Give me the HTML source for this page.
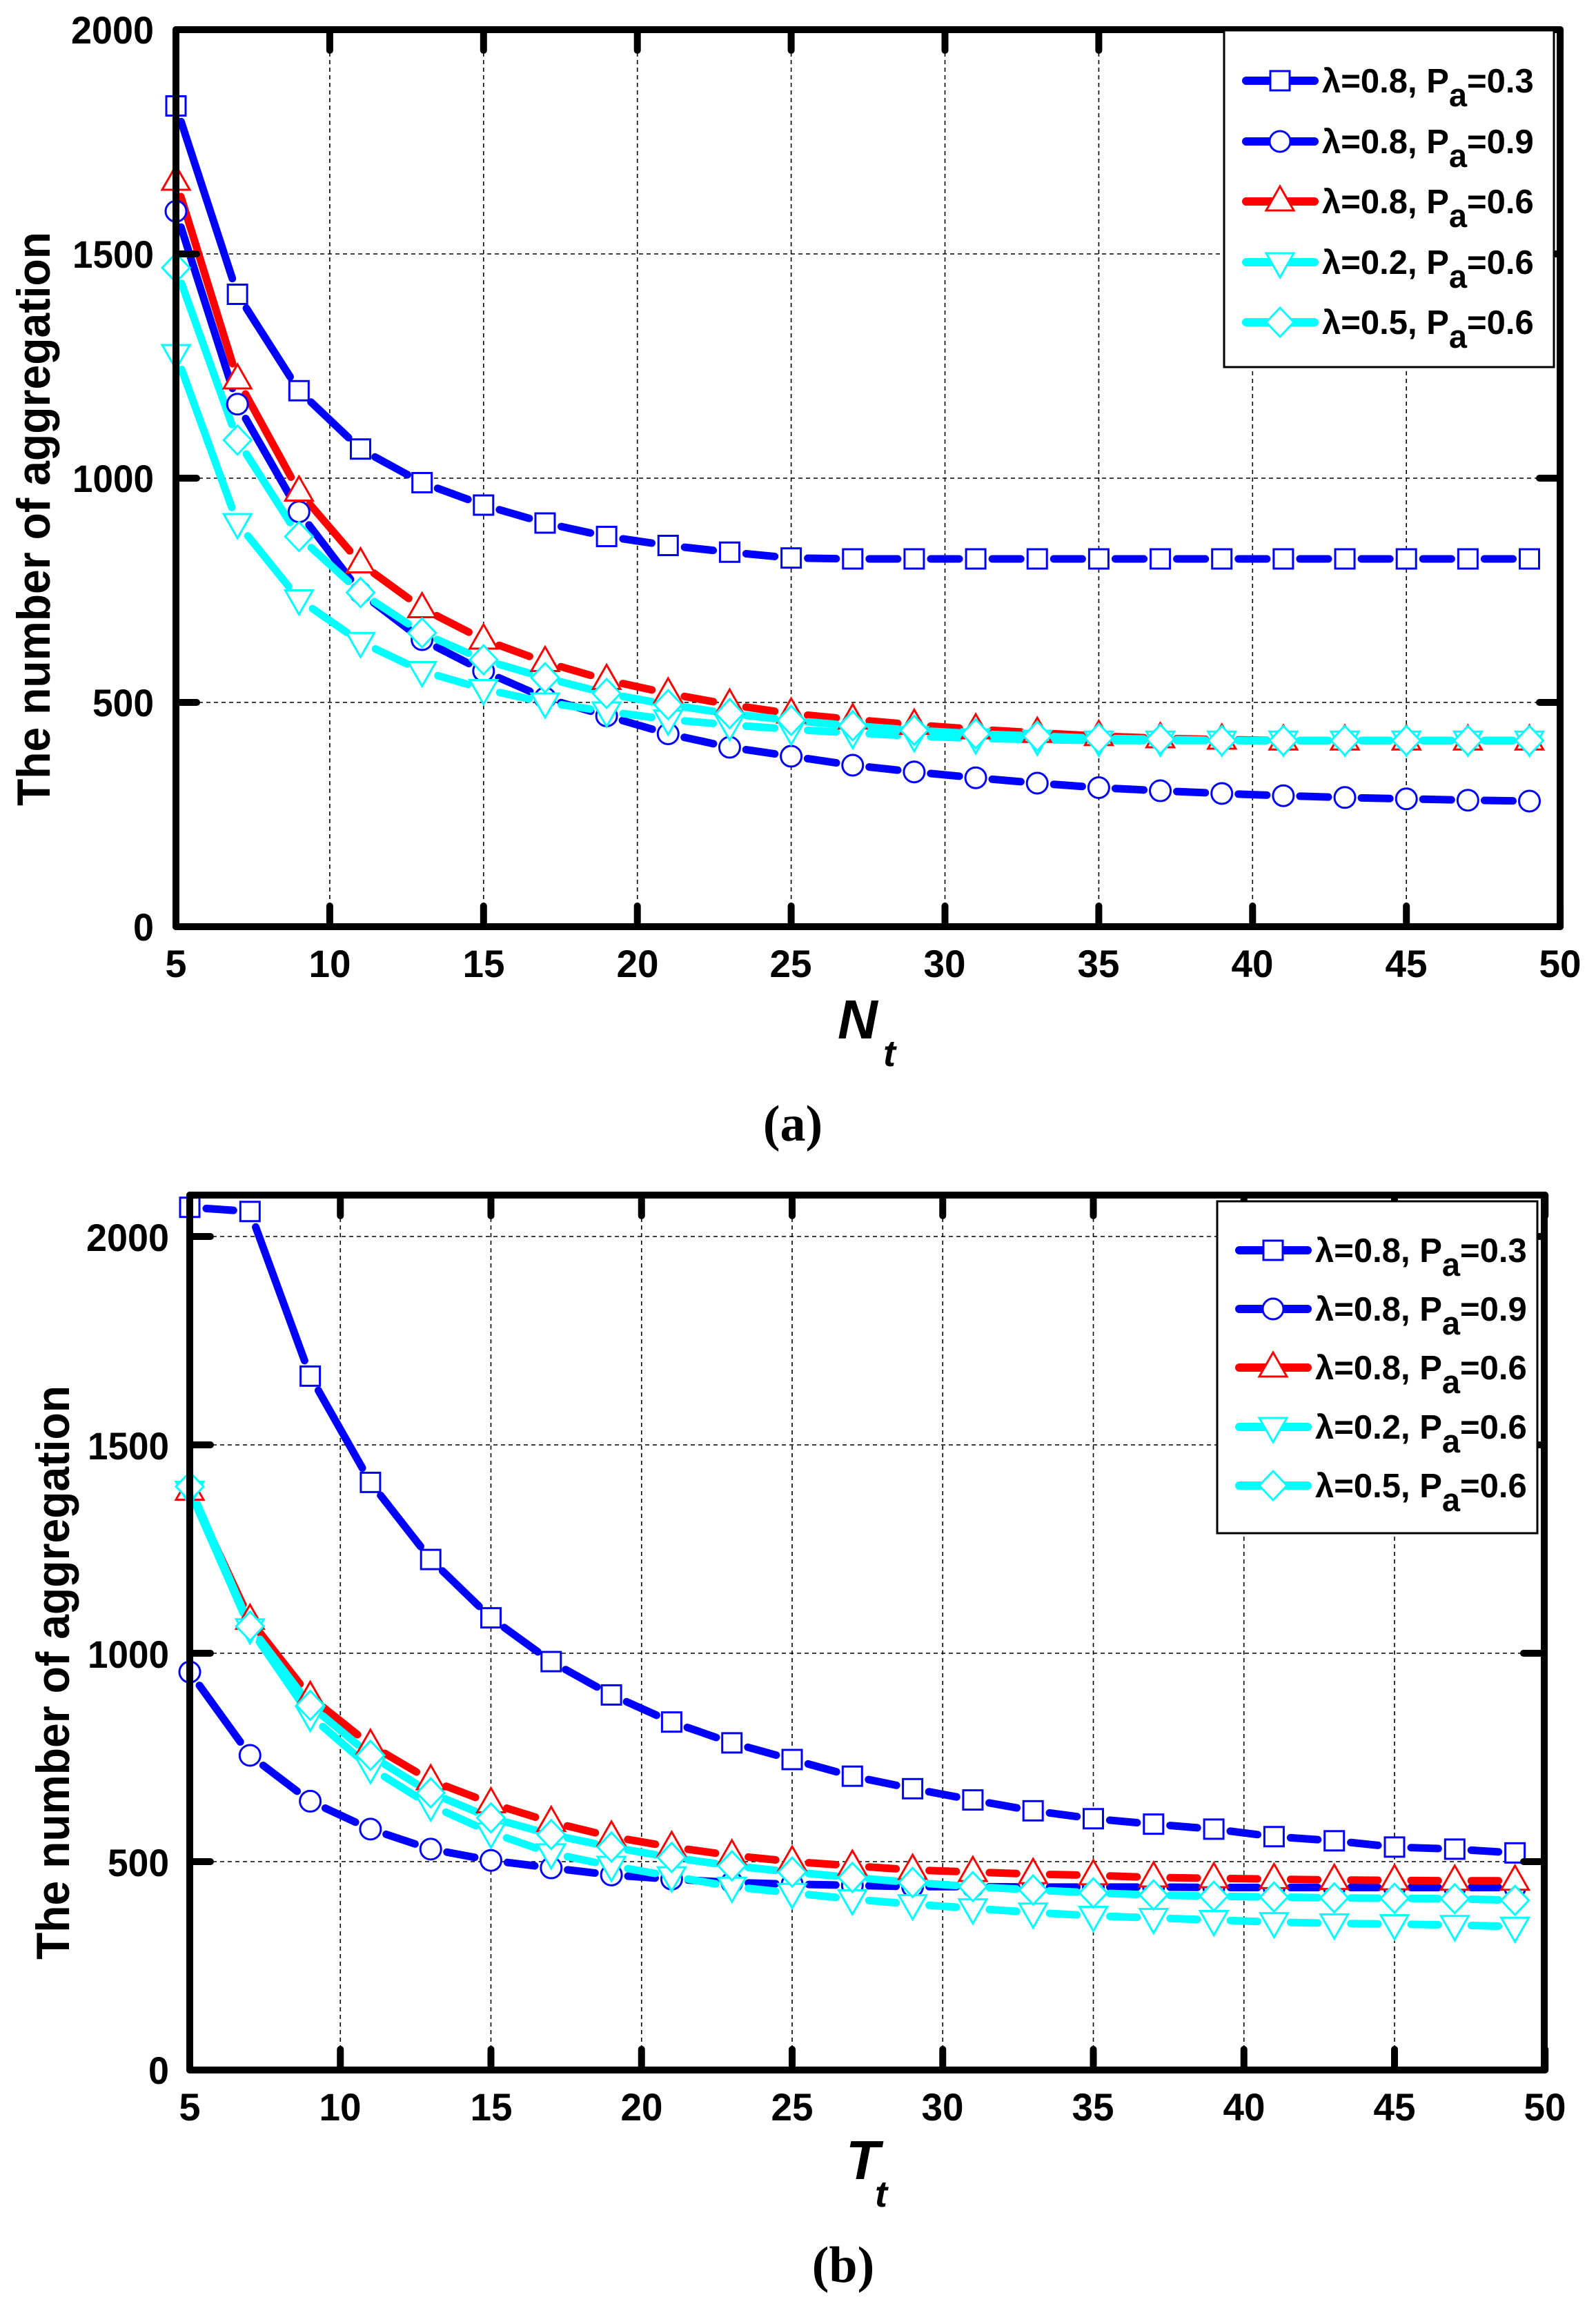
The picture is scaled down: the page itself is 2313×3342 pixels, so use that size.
<!DOCTYPE html>
<html><head><meta charset="utf-8"><style>
html,body{margin:0;padding:0;background:#fff;}
svg{display:block;}
.tk{font-family:"Liberation Sans Narrow","Liberation Sans",sans-serif;font-weight:bold;font-size:56px;}
.lg{font-family:"Liberation Sans",sans-serif;font-weight:bold;font-size:49px;}
</style></head><body>
<svg id="s" width="2313" height="3342" viewBox="0 0 2313 3342" xmlns="http://www.w3.org/2000/svg">
<rect width="2313" height="3342" fill="#fff"/>
<g id="ga"></g>
<g id="gb"></g>
<!-- Plot a texts -->
<g class="tk" text-anchor="end">
<text x="223" y="63" textLength="120" lengthAdjust="spacingAndGlyphs">2000</text>
<text x="223" y="388" textLength="118" lengthAdjust="spacingAndGlyphs">1500</text>
<text x="223" y="713" textLength="118" lengthAdjust="spacingAndGlyphs">1000</text>
<text x="223" y="1038" textLength="89" lengthAdjust="spacingAndGlyphs">500</text>
<text x="223" y="1363" textLength="30" lengthAdjust="spacingAndGlyphs">0</text>
</g>
<g class="tk" text-anchor="middle">
<text x="255" y="1416">5</text>
<text x="478" y="1416" textLength="61" lengthAdjust="spacingAndGlyphs">10</text>
<text x="701" y="1416" textLength="61" lengthAdjust="spacingAndGlyphs">15</text>
<text x="924" y="1416" textLength="61" lengthAdjust="spacingAndGlyphs">20</text>
<text x="1146" y="1416" textLength="61" lengthAdjust="spacingAndGlyphs">25</text>
<text x="1369" y="1416" textLength="61" lengthAdjust="spacingAndGlyphs">30</text>
<text x="1592" y="1416" textLength="61" lengthAdjust="spacingAndGlyphs">35</text>
<text x="1815" y="1416" textLength="61" lengthAdjust="spacingAndGlyphs">40</text>
<text x="2038" y="1416" textLength="61" lengthAdjust="spacingAndGlyphs">45</text>
<text x="2261" y="1416" textLength="61" lengthAdjust="spacingAndGlyphs">50</text>
</g>
<text transform="translate(72,752) rotate(-90)" text-anchor="middle" font-family="'Liberation Sans Narrow','Liberation Sans',sans-serif" font-weight="bold" font-size="68" textLength="832" lengthAdjust="spacingAndGlyphs">The number of aggregation</text>
<text x="1214" y="1505" font-family="'Liberation Sans',sans-serif" font-weight="bold" font-style="italic" font-size="80">N</text>
<text x="1280" y="1545" font-family="'Liberation Sans',sans-serif" font-weight="bold" font-style="italic" font-size="54">t</text>
<text x="1149" y="1653" text-anchor="middle" font-family="'Liberation Serif',serif" font-weight="bold" font-size="74">(a)</text>
<!-- Legend a -->
<rect x="1774" y="44" width="478" height="488" fill="#fff" stroke="#000" stroke-width="3"/>
<g class="lg">
<text x="1916" y="134">λ=0.8, P<tspan font-size="47" dy="20">a</tspan><tspan dy="-20">=0.3</tspan></text>
<text x="1916" y="222">λ=0.8, P<tspan font-size="47" dy="20">a</tspan><tspan dy="-20">=0.9</tspan></text>
<text x="1916" y="309">λ=0.8, P<tspan font-size="47" dy="20">a</tspan><tspan dy="-20">=0.6</tspan></text>
<text x="1916" y="397">λ=0.2, P<tspan font-size="47" dy="20">a</tspan><tspan dy="-20">=0.6</tspan></text>
<text x="1916" y="484">λ=0.5, P<tspan font-size="47" dy="20">a</tspan><tspan dy="-20">=0.6</tspan></text>
</g>
<!-- Plot b texts -->
<g class="tk" text-anchor="end">
<text x="245" y="1813" textLength="120" lengthAdjust="spacingAndGlyphs">2000</text>
<text x="245" y="2115" textLength="118" lengthAdjust="spacingAndGlyphs">1500</text>
<text x="245" y="2417" textLength="118" lengthAdjust="spacingAndGlyphs">1000</text>
<text x="245" y="2719" textLength="89" lengthAdjust="spacingAndGlyphs">500</text>
<text x="245" y="3020" textLength="30" lengthAdjust="spacingAndGlyphs">0</text>
</g>
<g class="tk" text-anchor="middle">
<text x="275" y="3073">5</text>
<text x="493" y="3073" textLength="61" lengthAdjust="spacingAndGlyphs">10</text>
<text x="712" y="3073" textLength="61" lengthAdjust="spacingAndGlyphs">15</text>
<text x="930" y="3073" textLength="61" lengthAdjust="spacingAndGlyphs">20</text>
<text x="1148" y="3073" textLength="61" lengthAdjust="spacingAndGlyphs">25</text>
<text x="1366" y="3073" textLength="61" lengthAdjust="spacingAndGlyphs">30</text>
<text x="1584" y="3073" textLength="61" lengthAdjust="spacingAndGlyphs">35</text>
<text x="1803" y="3073" textLength="61" lengthAdjust="spacingAndGlyphs">40</text>
<text x="2021" y="3073" textLength="61" lengthAdjust="spacingAndGlyphs">45</text>
<text x="2239" y="3073" textLength="61" lengthAdjust="spacingAndGlyphs">50</text>
</g>
<text transform="translate(100,2424) rotate(-90)" text-anchor="middle" font-family="'Liberation Sans Narrow','Liberation Sans',sans-serif" font-weight="bold" font-size="68" textLength="832" lengthAdjust="spacingAndGlyphs">The number of aggregation</text>
<text x="1226" y="3158" font-family="'Liberation Sans',sans-serif" font-weight="bold" font-style="italic" font-size="80">T</text>
<text x="1268" y="3198" font-family="'Liberation Sans',sans-serif" font-weight="bold" font-style="italic" font-size="54">t</text>
<text x="1222" y="3307" text-anchor="middle" font-family="'Liberation Serif',serif" font-weight="bold" font-size="74">(b)</text>
<rect x="1764" y="1741" width="464" height="481" fill="#fff" stroke="#000" stroke-width="3"/>
<g class="lg">
<text x="1906" y="1829">λ=0.8, P<tspan font-size="47" dy="20">a</tspan><tspan dy="-20">=0.3</tspan></text>
<text x="1906" y="1914">λ=0.8, P<tspan font-size="47" dy="20">a</tspan><tspan dy="-20">=0.9</tspan></text>
<text x="1906" y="1999">λ=0.8, P<tspan font-size="47" dy="20">a</tspan><tspan dy="-20">=0.6</tspan></text>
<text x="1906" y="2085">λ=0.2, P<tspan font-size="47" dy="20">a</tspan><tspan dy="-20">=0.6</tspan></text>
<text x="1906" y="2170">λ=0.5, P<tspan font-size="47" dy="20">a</tspan><tspan dy="-20">=0.6</tspan></text>
</g>
<g id="leg"></g>
</svg>
<script>
var NS="http://www.w3.org/2000/svg";
function el(p,t,a){var e=document.createElementNS(NS,t);for(var k in a)e.setAttribute(k,a[k]);p.appendChild(e);return e;}
var xs=[];for(var i=5;i<=49;i+=2)xs.push(i);
var colors=["#0000ff","#0000ff","#ff0000","#00ffff","#00ffff"];
var shapes=["sq","ci","tu","td","di"];
function marker(g,s,x,y,c){
 var a={fill:"#fff",stroke:c,"stroke-width":3};
 if(s=="sq"){a.x=x-14;a.y=y-14;a.width=28;a.height=28;el(g,"rect",a);}
 else if(s=="ci"){a.cx=x;a.cy=y;a.r=15;el(g,"circle",a);}
 else if(s=="tu"){a.points=(x)+","+(y-22)+" "+(x-20)+","+(y+13)+" "+(x+20)+","+(y+13);el(g,"polygon",a);}
 else if(s=="td"){a.points=(x)+","+(y+22)+" "+(x-20)+","+(y-13)+" "+(x+20)+","+(y-13);el(g,"polygon",a);}
 else {a.points=x+","+(y-21)+" "+(x+20)+","+y+" "+x+","+(y+21)+" "+(x-20)+","+y;el(g,"polygon",a);}
}
function plot(g,L,R,T,B,X,Y,yt,data){
 // grid
 for(var x=10;x<50;x+=5){var px=X(x);el(g,"line",{x1:px,y1:T,x2:px,y2:B,stroke:"#000","stroke-width":1.6,"stroke-dasharray":"6 5"});}
 yt.forEach(function(v){var py=Y(v);if(py>T+5&&py<B-5)el(g,"line",{x1:L,y1:py,x2:R,y2:py,stroke:"#000","stroke-width":1.6,"stroke-dasharray":"6 5"});});
 // series
 data.forEach(function(d,si){
  var c=colors[si];
  for(var i=0;i<d.length-1;i++){
   var x1=X(xs[i]),y1=Y(d[i]),x2=X(xs[i+1]),y2=Y(d[i+1]);
   var dx=x2-x1,dy=y2-y1,len=Math.sqrt(dx*dx+dy*dy),g0=24;
   if(len<2*g0+4)continue;
   el(g,"line",{x1:x1+dx/len*g0,y1:y1+dy/len*g0,x2:x2-dx/len*g0,y2:y2-dy/len*g0,stroke:c,"stroke-width":11,"stroke-linecap":"round"});
  }
 });
 data.forEach(function(d,si){for(var i=0;i<d.length;i++)marker(g,shapes[si],X(xs[i]),Y(d[i]),colors[si]);});
 // ticks
 for(var x=5;x<=50;x+=5){var px=X(x);
  el(g,"line",{x1:px,y1:B,x2:px,y2:B-30,stroke:"#000","stroke-width":10,"stroke-linecap":"round"});
  el(g,"line",{x1:px,y1:T,x2:px,y2:T+30,stroke:"#000","stroke-width":10,"stroke-linecap":"round"});}
 yt.forEach(function(v){var py=Y(v);
  el(g,"line",{x1:L,y1:py,x2:L+30,y2:py,stroke:"#000","stroke-width":10,"stroke-linecap":"round"});
  el(g,"line",{x1:R,y1:py,x2:R-30,y2:py,stroke:"#000","stroke-width":10,"stroke-linecap":"round"});});
 el(g,"rect",{x:L,y:T,width:R-L,height:B-T,fill:"none",stroke:"#000","stroke-width":10,"stroke-linejoin":"round"});
}
var da=[
[1830,1410,1195,1065,990,940,900,870,850,835,822,820,820,820,820,820,820,820,820,820,820,820,820],
[1595,1165,925,745,640,570,510,470,430,400,380,360,345,332,320,310,303,297,292,288,285,282,280],
[1663,1220,970,810,710,640,590,550,520,495,475,462,450,440,432,425,420,417,415,415,415,415,415],
[1277,900,730,635,570,530,500,480,462,450,440,432,425,420,417,415,415,415,415,415,415,415,415],
[1469,1085,870,745,655,595,555,520,495,475,460,448,438,430,425,420,418,415,415,415,415,415,415]];
var db=[
[2070,2060,1665,1410,1225,1085,980,900,835,785,745,705,675,648,622,603,590,578,560,550,535,530,521],
[955,755,645,578,530,503,485,468,458,450,446,443,440,440,439,439,439,438,438,438,438,438,438],
[1390,1080,895,780,695,640,595,560,535,515,500,490,480,475,470,467,462,460,458,456,455,454,454],
[1390,1060,850,725,635,570,520,490,465,440,425,410,398,388,378,370,365,360,355,352,350,348,344],
[1400,1065,875,755,665,605,565,535,510,490,475,462,450,440,432,425,420,417,415,413,412,411,407]];
plot(document.getElementById("ga"),255,2261,43,1343,function(x){return 255+(x-5)*44.58;},function(v){return 1343-v*0.65;},[0,500,1000,1500,2000],da);
plot(document.getElementById("gb"),275,2238,1732,3000,function(x){return 275+(x-5)*43.65;},function(v){return 3000-v*0.604;},[0,500,1000,1500,2000],db);
// legend samples
var lg=document.getElementById("leg");
var s=document.getElementById("s");
function legend(x0,rows){rows.forEach(function(y,i){
 el(lg,"line",{x1:x0,y1:y,x2:x0+99,y2:y,stroke:colors[i],"stroke-width":12,"stroke-linecap":"round"});
 marker(lg,shapes[i],x0+49,y,colors[i]);});}
legend(1806,[117,205,292,380,467]);
legend(1796,[1812,1897,1982,2068,2153]);
// bring legends to top: move rect+text after data
</script>
</body></html>
